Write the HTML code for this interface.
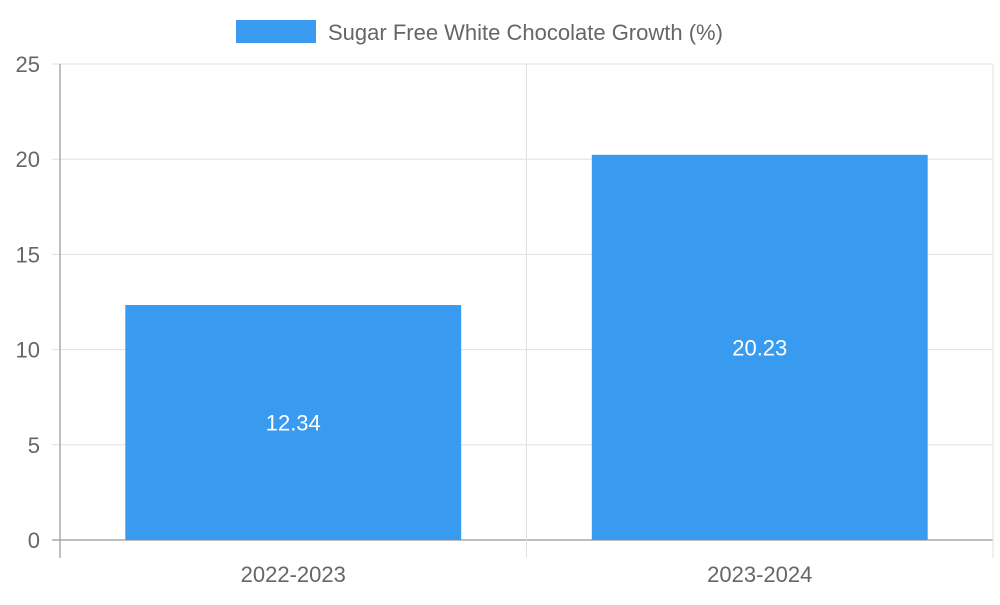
<!DOCTYPE html>
<html><head><meta charset="utf-8"><style>
body{margin:0;background:#fff;font-family:"Liberation Sans",sans-serif}
svg text{font-family:"Liberation Sans",sans-serif}
</style></head><body>
<svg id="chart" width="1000" height="600" xmlns="http://www.w3.org/2000/svg">
<g id="legend">
<rect x="236" y="20" width="80" height="23" fill="#399bf0"/>
<text x="328" y="40" font-size="22" fill="#666">Sugar Free White Chocolate Growth (%)</text>
</g>
<g id="grid"></g><g id="bars"></g><g id="labels"></g>
</svg>
<script>
const categories = ["2022-2023","2023-2024"];
const values = [12.34, 20.23];
const yTicks = [0,5,10,15,20,25];
const L=60,R=993,T=64,B=540,yMax=25;
const ns="http://www.w3.org/2000/svg";
const y=v=>B-(v/yMax)*(B-T);
const cw=(R-L)/categories.length;
const x=i=>L+cw*i;
function mk(tag,attrs,parent,text){const e=document.createElementNS(ns,tag);for(const k in attrs)e.setAttribute(k,attrs[k]);if(text!==undefined)e.textContent=text;document.getElementById(parent).appendChild(e);return e;}
yTicks.forEach(t=>{
  const g=mk('line',{x1:L-8,x2:R,y1:y(t),y2:y(t),stroke:t===0?'#aaa':'#e0e0e0','stroke-width':t===0?1.5:1},'grid');
  
  
  const tl=mk('text',{x:L-20,y:y(t)+8,'text-anchor':'end','font-size':22,fill:'#666'},'labels',String(t));
  
  
});
for(let i=0;i<=categories.length;i++){
  const g=mk('line',{x1:x(i),x2:x(i),y1:T,y2:B+18,stroke:i===0?'#aaa':'#e0e0e0','stroke-width':i===0?1.5:1},'grid');
  
  
}
categories.forEach((c,i)=>{
  const bw=cw*0.72, cx=x(i)+cw/2;
  const b=mk('rect',{x:cx-bw/2,y:y(values[i]),width:bw,height:B-y(values[i]),fill:'#399bf0'},'bars');
  
  
  const v=mk('text',{x:cx,y:(y(values[i])+B)/2+8,'text-anchor':'middle','font-size':22,fill:'#fff'},'labels',values[i].toFixed(2));
  
  
  const xl=mk('text',{x:cx,y:582,'text-anchor':'middle','font-size':22,fill:'#666'},'labels',c);
  
  
});
</script>
</body></html>
